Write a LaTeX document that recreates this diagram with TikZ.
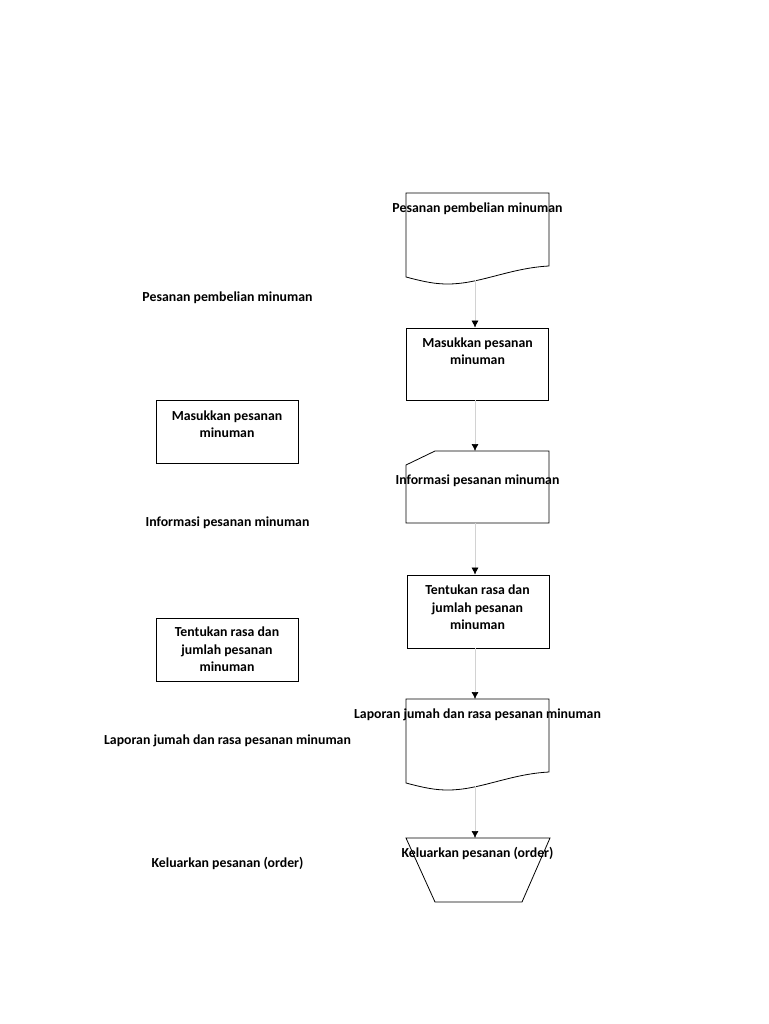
\documentclass[tikz,border=0pt]{standalone}
\usepackage{fontspec}
\setmainfont{Carlito}
\usetikzlibrary{arrows.meta}

\tikzset{
  flow/.style={draw=gray!35, line width=0.6pt, -{Latex[black,length=7pt,width=7pt]}},
  label/.style={inner sep=0pt, align=center},
  procbox/.style={draw, line width=0.8pt, minimum width=142pt, inner sep=0pt}
}

\begin{document}
\begin{tikzpicture}[x=1pt,y=-1pt, line width=0.8pt, font=\fontsize{13.8}{17.3}\selectfont\bfseries]

\useasboundingbox (0,0) rectangle (768,1024);

% Draw the document shape at the top
\draw (406,193) -- (549,193) -- (549,266)
  .. controls (510,268) and (480,284) .. (448,284)
  .. controls (435,284) and (425,282) .. (406,277) -- cycle;
\coordinate (pesan-b) at (475,280);
\node[label] (pesan) at (477.5,208.5) {Pesanan pembelian minuman};

% Draw the first process box
\node[procbox, minimum height=72pt] (masuk) at (477.5,364) {};
\node[label] (masuk-t) at (477.5,351) {Masukkan pesanan\\minuman};

% Draw the card shape
\draw (435,451) -- (549,451) -- (549,523) -- (406,523) -- (406,465) -- cycle;
\coordinate (info-t) at (475,451);
\coordinate (info-b) at (475,523);
\node[label] (info) at (477.5,480.5) {Informasi pesanan minuman};

% Draw the second process box
\node[procbox, minimum height=73pt] (tentu) at (478,611.5) {};
\node[label] (tentu-t) at (477.5,607.5) {Tentukan rasa dan\\jumlah pesanan\\minuman};

% Draw the second document shape
\begin{scope}[shift={(0,506)}]
\draw (406,193) -- (549,193) -- (549,266)
  .. controls (510,268) and (480,284) .. (448,284)
  .. controls (435,284) and (425,282) .. (406,277) -- cycle;
\coordinate (lapor-t) at (475,193);
\coordinate (lapor-b) at (475,280);
\end{scope}
\node[label] (lapor) at (477.5,714.5) {Laporan jumah dan rasa pesanan minuman};

% Draw the manual operation shape
\draw (406,838) -- (550,838) -- (522,902) -- (435,902) -- cycle;
\coordinate (keluar-t) at (475,838);
\node[label] (keluar) at (477.5,853.5) {Keluarkan pesanan (order)};

% Draw the arrows
\draw[flow] (pesan-b) -- (pesan-b |- masuk.north);
\draw[flow] (pesan-b |- masuk.south) -- (info-t);
\draw[flow] (info-b) -- (info-b |- tentu.north);
\draw[flow] (info-b |- tentu.south) -- (lapor-t);
\draw[flow] (lapor-b) -- (keluar-t);

% Left column
\node[label] (l-pesan) at (227.5,297.5) {Pesanan pembelian minuman};
\node[procbox, minimum height=63pt] (l-masuk) at (227,431.5) {};
\node[label] (l-masuk-t) at (227,424) {Masukkan pesanan\\minuman};
\node[label] (l-info) at (227.5,522.5) {Informasi pesanan minuman};
\node[procbox, minimum height=63pt] (l-tentu) at (227,649.5) {};
\node[label] (l-tentu-t) at (227,649.5) {Tentukan rasa dan\\jumlah pesanan\\minuman};
\node[label] (l-lapor) at (227.5,740.5) {Laporan jumah dan rasa pesanan minuman};
\node[label] (l-keluar) at (227.5,863.5) {Keluarkan pesanan (order)};

\end{tikzpicture}
\end{document}
